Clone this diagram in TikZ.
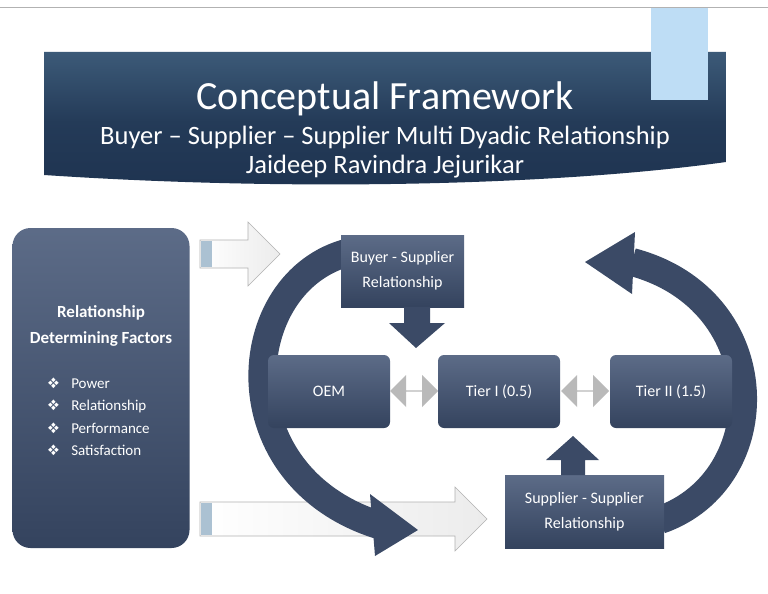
\documentclass[tikz,border=0pt]{standalone}
\usepackage{fontspec}
\setmainfont{Carlito}
\usepackage{pifont}
\usetikzlibrary{shapes.arrows}
\definecolor{navy}{HTML}{1E3350}
\definecolor{navyl}{HTML}{3C5A78}
\definecolor{slate}{HTML}{4A5B7A}
\definecolor{slated}{HTML}{34435E}
\definecolor{arcc}{HTML}{3B4A66}
\definecolor{lblue}{HTML}{BEDDF5}
\tikzset{
  box/.style={draw=none,top color=slate!90!white,bottom color=slated,text=white,font=\fontsize{16}{19}\selectfont,align=center,inner sep=0pt},
  rbox/.style={box,rounded corners=6pt},
  dark/.style={fill=arcc,draw=none},
  warrow/.style={left color=white,right color=gray!15,draw=gray!60,line width=0.6pt},
  garrow/.style={fill=gray!55,draw=none}
}
\begin{document}
\begin{tikzpicture}[x=1pt,y=-1pt]
\useasboundingbox (0,0) rectangle (768,594);
\fill[white] (0,0) rectangle (768,594);
\draw[gray!60,line width=1pt] (0,8) -- (768,8);
% banner
\shade[top color=navyl,bottom color=navy,middle color=navy!80!navyl]
  (44,52) -- (726,52) -- (726,162) .. controls (560,185) and (300,192) .. (44,175) -- cycle;
\fill[lblue] (651,8) rectangle (708,100);
\node[text=white,font=\fontsize{40}{44}\selectfont] (t1) at (385,99) {Conceptual Framework};
\node[text=white,font=\fontsize{26.5}{30}\selectfont] (t2) at (385,137) {Buyer – Supplier – Supplier Multi Dyadic Relationship};
\node[text=white,font=\fontsize{26.5}{30}\selectfont] (t3) at (385,167) {Jaideep Ravindra Jejurikar};
% left box
\node[rbox,rounded corners=18pt,minimum width=177pt,minimum height=320pt] (lb) at (101,388) {};
\node[text=white,font=\bfseries\fontsize{17}{26}\selectfont,align=center] (lt) at (101,326) {Relationship\\Determining Factors};
\node[text=white,font=\fontsize{15}{22.5}\selectfont,align=left,anchor=north west] (bl) at (44,374)
 {\ding{118}\hspace{12pt}Power\\ \ding{118}\hspace{12pt}Relationship\\ \ding{118}\hspace{12pt}Performance\\ \ding{118}\hspace{12pt}Satisfaction};
% white arrows
\draw[warrow] (200,240) -- (248,240) -- (248,222) -- (280,254) -- (248,286) -- (248,268) -- (200,268) -- cycle;
\fill[lblue!70!gray] (201,241) rectangle (212,267);
\draw[warrow] (200,502) -- (455,502) -- (455,487) -- (487,519) -- (455,551) -- (455,536) -- (200,536) -- cycle;
\fill[lblue!70!gray] (201,503) rectangle (212,535);
% curved arrows
\draw[arcc,line width=28pt] (350,252) .. controls (235,280) and (220,480) .. (385,527);
\fill[arcc] (370,494) -- (418,530) -- (375,556) -- cycle;
\draw[arcc,line width=28pt] (660,520) .. controls (775,480) and (775,300) .. (632,262);
\fill[arcc] (635,232) -- (585,262) -- (632,294) -- cycle;
% boxes
\node[box,minimum width=123pt,minimum height=72pt] (bs) at (402.5,271) {Buyer - Supplier\\[6pt]Relationship};
\node[rbox,minimum width=122pt,minimum height=73pt] (oem) at (329,391.5) {OEM};
\node[rbox,minimum width=122pt,minimum height=73pt] (t1b) at (499,391.5) {Tier I (0.5)};
\node[rbox,minimum width=122pt,minimum height=73pt] (t2b) at (671,391.5) {Tier II (1.5)};
\node[box,minimum width=159pt,minimum height=73pt] (ss) at (584.5,511.5) {Supplier - Supplier\\[6pt]Relationship};
% down / up arrows
\fill[arcc] (404,307) -- (430,307) -- (430,323) -- (445,323) -- (416,348) -- (389,323) -- (404,323) -- cycle;
\fill[arcc] (561,475) -- (585,475) -- (585,460) -- (599,460) -- (573,436) -- (546,460) -- (561,460) -- cycle;
% grey double arrows
\node[garrow,double arrow,double arrow head extend=6pt,minimum height=48pt,minimum width=32pt,inner sep=0pt] (g1) at (414,391) {};
\node[garrow,double arrow,double arrow head extend=6pt,minimum height=48pt,minimum width=32pt,inner sep=0pt] (g2) at (585,391) {};
\end{tikzpicture}
\end{document}
